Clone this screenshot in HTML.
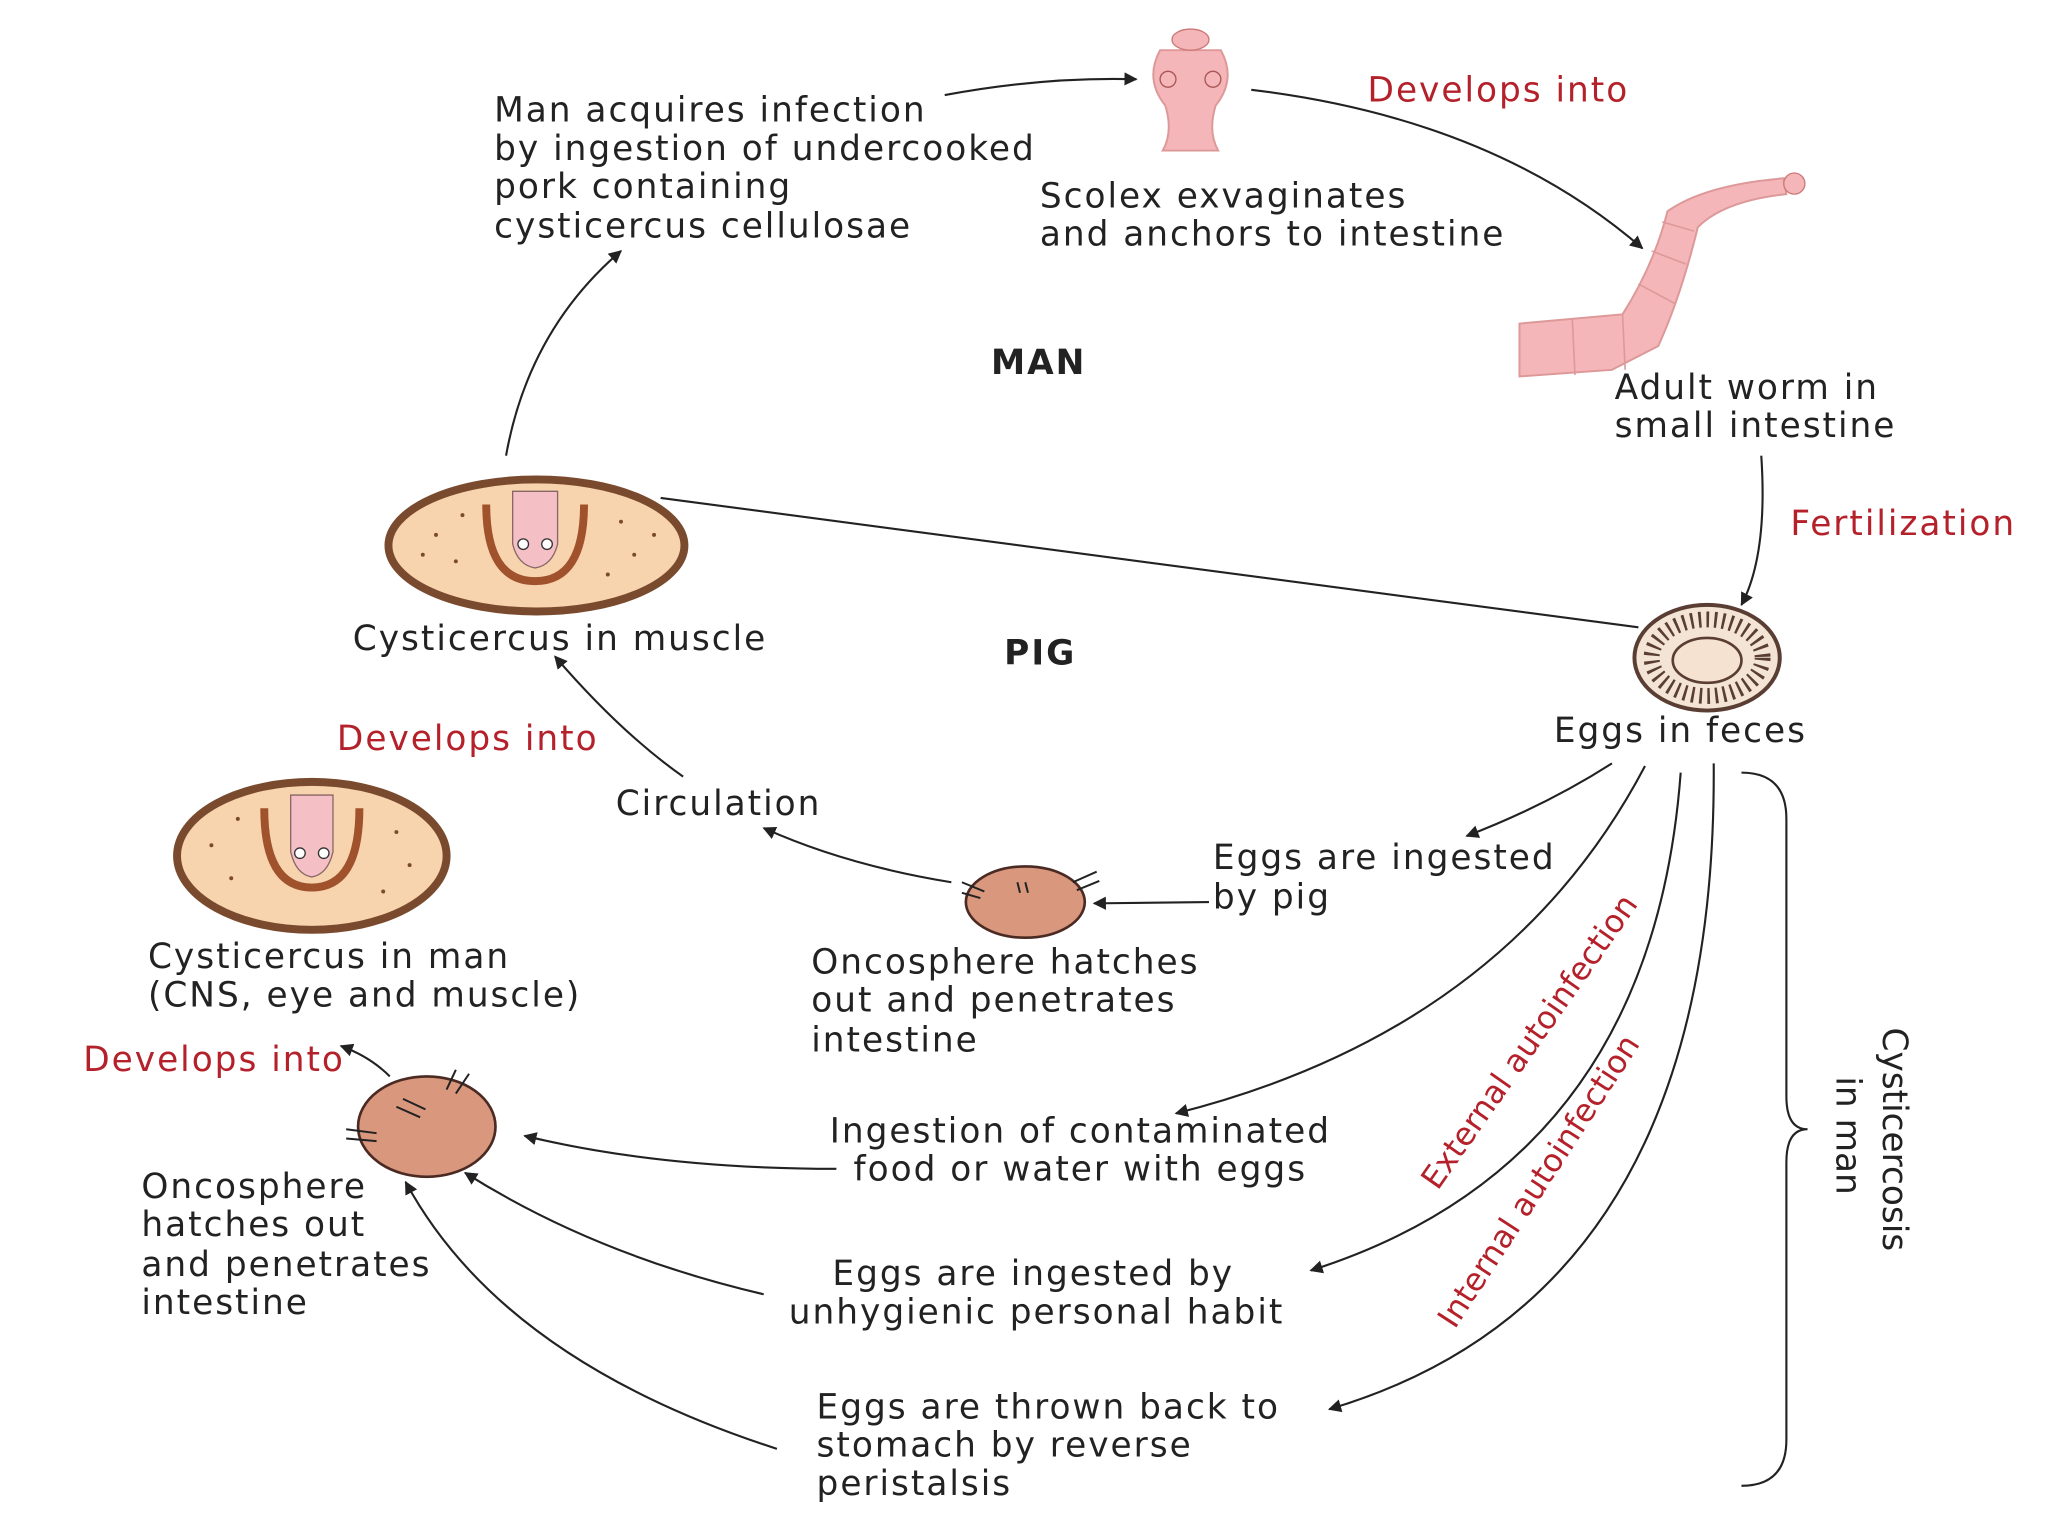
<!DOCTYPE html>
<html><head><meta charset="utf-8"><style>
html,body{margin:0;padding:0;background:#fff;}
svg{display:block}
text{font-family:"DejaVu Sans","Liberation Sans",sans-serif;font-size:26px;letter-spacing:1.5px;fill:#222}
.r{fill:#b5212a}
.b{font-weight:bold}
</style></head><body>
<svg width="2048" height="1536" viewBox="0 0 1550 1163" preserveAspectRatio="none" xmlns="http://www.w3.org/2000/svg">
<defs><marker id="a" markerWidth="10" markerHeight="10" refX="9" refY="5" orient="auto" markerUnits="userSpaceOnUse"><path d="M0,0 L10,5 L0,10 z" fill="#222"/></marker></defs>
<g fill="none" stroke="#222" stroke-width="1.6">
<path d="M383,345 Q400,250 470,190" marker-end="url(#a)"/>
<path d="M715,72 Q790,58 860,60" marker-end="url(#a)"/>
<path d="M947,68 Q1130,90 1243,188" marker-end="url(#a)"/>
<path d="M1333,345 Q1338,420 1318,458" marker-end="url(#a)"/>
<path d="M1220,578 Q1170,610 1110,633" marker-end="url(#a)"/>
<path d="M915,683 L828,684" marker-end="url(#a)"/>
<path d="M720,668 Q640,655 578,627" marker-end="url(#a)"/>
<path d="M517,588 Q470,555 420,497" marker-end="url(#a)"/>
<path d="M1245,580 Q1140,780 890,843" marker-end="url(#a)"/>
<path d="M633,885 Q500,885 397,860" marker-end="url(#a)"/>
<path d="M1272,585 Q1250,880 992,962" marker-end="url(#a)"/>
<path d="M1297,578 Q1300,980 1006,1067" marker-end="url(#a)"/>
<path d="M578,980 Q450,950 352,888" marker-end="url(#a)"/>
<path d="M588,1097 Q380,1030 307,895" marker-end="url(#a)"/>
<path d="M295,815 Q280,800 258,792" marker-end="url(#a)"/>
<path d="M500,377 L1240,475"/>
<path d="M1318,585 Q1352,585 1352,620 L1352,830 Q1352,855 1368,855 Q1352,855 1352,880 L1352,1090 Q1352,1125 1318,1125"/>
</g>
<path d="M878,38 Q866,60 882,80 Q888,100 880,114 L922,114 Q914,100 920,80 Q936,60 924,38 Z" fill="#f4b6b8" stroke="#d99" stroke-width="1.5"/>
<ellipse cx="901" cy="30" rx="14" ry="8" fill="#f4b6b8" stroke="#c77"/>
<circle cx="884" cy="60" r="6" fill="none" stroke="#a55"/><circle cx="918" cy="60" r="6" fill="none" stroke="#a55"/>
<path d="M1150,245 L1228,238 Q1252,200 1262,160 Q1290,140 1350,135 L1352,147 Q1305,152 1285,172 Q1272,225 1255,262 L1220,280 L1150,285 Z" fill="#f4b6b8" stroke="#d99" stroke-width="1.5"/>
<g stroke="#d99" stroke-width="1.2"><line x1="1190" y1="242" x2="1192" y2="284"/><line x1="1228" y1="238" x2="1230" y2="280"/><line x1="1240" y1="215" x2="1268" y2="230"/><line x1="1250" y1="190" x2="1276" y2="200"/><line x1="1258" y1="168" x2="1282" y2="175"/></g>
<circle cx="1358" cy="139" r="8" fill="#f4b6b8" stroke="#c77"/>
<ellipse cx="406" cy="413" rx="112" ry="50" fill="#f7d4ad" stroke="#7a4a2e" stroke-width="6"/>
<path d="M368,382 Q368,440 405,440 Q442,440 442,382" fill="none" stroke="#a0522d" stroke-width="6"/>
<path d="M388,372 L388,412 Q392,428 405,430 Q418,428 422,412 L422,372 Z" fill="#f4c0c6" stroke="#866"/>
<circle cx="396" cy="412" r="4" fill="#fff" stroke="#333"/><circle cx="414" cy="412" r="4" fill="#fff" stroke="#333"/>
<g fill="#7a4a2e"><circle cx="330" cy="405" r="1.5"/><circle cx="350" cy="390" r="1.5"/><circle cx="345" cy="425" r="1.5"/><circle cx="470" cy="395" r="1.5"/><circle cx="480" cy="420" r="1.5"/><circle cx="460" cy="435" r="1.5"/><circle cx="320" cy="420" r="1.5"/><circle cx="495" cy="405" r="1.5"/></g>
<ellipse cx="236" cy="648" rx="102" ry="56" fill="#f7d4ad" stroke="#7a4a2e" stroke-width="6"/>
<path d="M200,612 Q200,672 236,672 Q272,672 272,612" fill="none" stroke="#a0522d" stroke-width="6"/>
<path d="M220,602 L220,645 Q224,662 236,664 Q248,662 252,645 L252,602 Z" fill="#f4c0c6" stroke="#866"/>
<circle cx="227" cy="646" r="4" fill="#fff" stroke="#333"/><circle cx="245" cy="646" r="4" fill="#fff" stroke="#333"/>
<g fill="#7a4a2e"><circle cx="160" cy="640" r="1.5"/><circle cx="180" cy="620" r="1.5"/><circle cx="175" cy="665" r="1.5"/><circle cx="300" cy="630" r="1.5"/><circle cx="310" cy="655" r="1.5"/><circle cx="290" cy="675" r="1.5"/></g>
<ellipse cx="1292" cy="498" rx="55" ry="40" fill="#f3e4d6" stroke="#5a3e33" stroke-width="3"/>
<ellipse cx="1292" cy="498" rx="42" ry="29" fill="none" stroke="#5a3e33" stroke-width="12" stroke-dasharray="2 4"/>
<ellipse cx="1292" cy="500" rx="26" ry="17" fill="#f6e2d0" stroke="#5a3e33" stroke-width="2"/>
<ellipse cx="776" cy="683" rx="45" ry="27" fill="#d9977d" stroke="#4a2a22" stroke-width="2"/>
<g stroke="#222" stroke-width="1.5"><line x1="728" y1="668" x2="745" y2="675"/><line x1="728" y1="676" x2="742" y2="680"/><line x1="812" y1="668" x2="830" y2="660"/><line x1="815" y1="674" x2="832" y2="667"/><line x1="770" y1="668" x2="772" y2="676"/><line x1="776" y1="668" x2="778" y2="676"/></g>
<ellipse cx="323" cy="853" rx="52" ry="38" fill="#d9977d" stroke="#4a2a22" stroke-width="2"/>
<g stroke="#222" stroke-width="1.5"><line x1="262" y1="855" x2="285" y2="858"/><line x1="262" y1="862" x2="285" y2="864"/><line x1="338" y1="825" x2="345" y2="810"/><line x1="345" y1="828" x2="355" y2="813"/><line x1="300" y1="838" x2="318" y2="846"/><line x1="305" y1="832" x2="322" y2="840"/></g>
<text x="374" y="92">Man acquires infection</text>
<text x="374" y="121">by ingestion of undercooked</text>
<text x="374" y="150">pork containing</text>
<text x="374" y="180">cysticercus cellulosae</text>
<text x="1035" y="77" class="r">Develops into</text>
<text x="787" y="157">Scolex exvaginates</text>
<text x="787" y="186">and anchors to intestine</text>
<text x="750" y="283" class="b">MAN</text>
<text x="760" y="503" class="b">PIG</text>
<text x="1222" y="302">Adult worm in</text>
<text x="1222" y="331">small intestine</text>
<text x="1355" y="405" class="r">Fertilization</text>
<text x="267" y="492">Cysticercus in muscle</text>
<text x="1176" y="562">Eggs in feces</text>
<text x="255" y="568" class="r">Develops into</text>
<text x="466" y="617">Circulation</text>
<text x="918" y="658">Eggs are ingested</text>
<text x="918" y="688">by pig</text>
<text x="112" y="733">Cysticercus in man</text>
<text x="112" y="762">(CNS, eye and muscle)</text>
<text x="614" y="737">Oncosphere hatches</text>
<text x="614" y="766">out and penetrates</text>
<text x="614" y="796">intestine</text>
<text x="63" y="811" class="r">Develops into</text>
<text x="628" y="865">Ingestion of contaminated</text>
<text x="646" y="894">food or water with eggs</text>
<text x="107" y="907">Oncosphere</text>
<text x="107" y="936">hatches out</text>
<text x="107" y="966">and penetrates</text>
<text x="107" y="995">intestine</text>
<text x="630" y="973">Eggs are ingested by</text>
<text x="597" y="1002">unhygienic personal habit</text>
<text x="618" y="1074">Eggs are thrown back to</text>
<text x="618" y="1103">stomach by reverse</text>
<text x="618" y="1132">peristalsis</text>
<text class="r" transform="translate(1088,902) rotate(-55)" style="font-size:24px;letter-spacing:0">External autoinfection</text>
<text class="r" transform="translate(1101,1007) rotate(-57)" style="font-size:24px;letter-spacing:0">Internal autoinfection</text>
<text transform="translate(1425,778) rotate(90)" style="letter-spacing:0">Cysticercosis</text>
<text transform="translate(1390,815) rotate(90)" style="letter-spacing:0">in man</text>
</svg>
</body></html>
